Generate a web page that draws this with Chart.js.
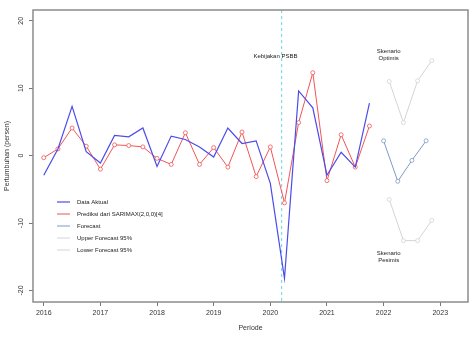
<!DOCTYPE html>
<html>
<head>
<meta charset="utf-8">
<script src="https://cdn.jsdelivr.net/npm/chart.js@4/dist/chart.umd.min.js"></script>
<style>
html,body{margin:0;padding:0;background:#fff;}
canvas{display:block;}
</style>
</head>
<body>
<canvas id="c" width="474" height="340"></canvas>
<script>
// ---- data ----
const quarters = [2016, 2016.25, 2016.5, 2016.75, 2017, 2017.25, 2017.5, 2017.75,
                  2018, 2018.25, 2018.5, 2018.75, 2019, 2019.25, 2019.5, 2019.75,
                  2020, 2020.25, 2020.5, 2020.75, 2021, 2021.25, 2021.5, 2021.75];
const actual    = [-2.9, 1.0, 7.3, 0.6, -1.1, 3.0, 2.8, 4.1,
                   -1.6, 2.9, 2.4, 1.3, -0.2, 4.1, 1.8, 2.2,
                   -4.1, -18.2, 9.6, 7.1, -2.9, 0.5, -1.7, 7.8];
const predicted = [-0.3, 1.0, 4.1, 1.4, -2.0, 1.6, 1.5, 1.3,
                   -0.4, -1.3, 3.4, -1.3, 1.2, -1.7, 3.5, -3.1,
                   1.3, -7.0, 4.9, 12.3, -3.7, 3.1, -1.7, 4.4];
const forecastQuarters = [2022, 2022.25, 2022.5, 2022.75];
const forecast  = [2.2, -3.8, -0.7, 2.2];
const boundQuarters = [2022.1, 2022.35, 2022.6, 2022.85];
const upper95   = [11.0, 4.9, 11.1, 14.1];
const lower95   = [-6.5, -12.6, -12.6, -9.6];
const xTickYears = [2016, 2017, 2018, 2019, 2020, 2021, 2022, 2023];
const yTickValues = [-20, -10, 0, 10, 20];
const psbbDate = 2020.2;
const seriesLabels = ['Data Aktual', 'Prediksi dari SARIMAX(2,0,0)[4]', 'Forecast',
                      'Upper Forecast 95%', 'Lower Forecast 95%'];
const notes = [
  {text: ['Kebijakan PSBB'], x: 2020.09, y: 14.8},
  {text: ['Skenario', 'Optimis'], x: 2022.09, y: 15.4},
  {text: ['Skenario', 'Pesimis'], x: 2022.09, y: -14.5}
];

const pts = (xs, ys) => xs.map((x, i) => ({x: x, y: ys[i]}));
const FONT = '"Liberation Sans", Arial, sans-serif';
const C_BLUE = 'rgb(75,75,235)', C_RED = 'rgb(240,85,85)', C_FC = 'rgb(125,155,195)', C_BOUND = 'rgb(212,212,212)';

const decor = {
  id: 'decor',
  beforeDatasetsDraw(chart) {
    const {ctx, chartArea: a, scales: {x}} = chart;
    const px = x.getPixelForValue(psbbDate);
    ctx.save();
    ctx.strokeStyle = 'rgb(95,215,235)';
    ctx.lineWidth = 1;
    ctx.setLineDash([3, 3]);
    ctx.beginPath(); ctx.moveTo(px, a.top); ctx.lineTo(px, a.bottom); ctx.stroke();
    ctx.restore();
  },
  afterDraw(chart) {
    const {ctx, chartArea: a, scales: {x, y}} = chart;
    ctx.save();
    // frame
    ctx.strokeStyle = 'rgb(140,140,140)';
    ctx.lineWidth = 1.5;
    ctx.strokeRect(a.left, a.top, a.right - a.left, a.bottom - a.top);
    // rotated y tick labels
    ctx.fillStyle = '#333';
    ctx.font = '7px ' + FONT;
    ctx.textAlign = 'center';
    ctx.textBaseline = 'middle';
    yTickValues.forEach(v => {
      const py = y.getPixelForValue(v);
      ctx.save();
      ctx.translate(a.left - 11.5, py);
      ctx.rotate(-Math.PI / 2);
      ctx.fillText(String(v), 0, 0);
      ctx.restore();
    });
    // annotations
    ctx.fillStyle = '#222';
    ctx.font = '6px ' + FONT;
    notes.forEach(n => {
      const px = x.getPixelForValue(n.x), py = y.getPixelForValue(n.y);
      n.text.forEach((t, i) => ctx.fillText(t, px, py + i * 7));
    });
    // legend
    ctx.textAlign = 'left';
    chart.data.datasets.forEach((ds, i) => {
      const ly = a.top + 192 + i * 12;
      const lx = a.left + 24;
      ctx.strokeStyle = ds.borderColor;
      ctx.lineWidth = ds.borderWidth;
      ctx.beginPath(); ctx.moveTo(lx, ly); ctx.lineTo(lx + 13, ly); ctx.stroke();
      ctx.fillStyle = '#222';
      ctx.fillText(ds.label, lx + 20, ly);
    });
    ctx.restore();
  }
};

new Chart(document.getElementById('c'), {
  type: 'line',
  data: {
    datasets: [
      {label: seriesLabels[0], data: pts(quarters, actual), borderColor: C_BLUE, borderWidth: 1.2,
       pointRadius: 0, tension: 0},
      {label: seriesLabels[1], data: pts(quarters, predicted), borderColor: C_RED, borderWidth: 1,
       pointRadius: 2, pointBorderWidth: 0.8, pointBorderColor: C_RED, pointBackgroundColor: '#fff', tension: 0},
      {label: seriesLabels[2], data: pts(forecastQuarters, forecast), borderColor: C_FC, borderWidth: 1,
       pointRadius: 2, pointBorderWidth: 0.8, pointBorderColor: C_FC, pointBackgroundColor: '#fff', tension: 0},
      {label: seriesLabels[3], data: pts(boundQuarters, upper95), borderColor: C_BOUND, borderWidth: 1,
       pointRadius: 2, pointBorderWidth: 0.8, pointBorderColor: C_BOUND, pointBackgroundColor: '#fff', tension: 0},
      {label: seriesLabels[4], data: pts(boundQuarters, lower95), borderColor: C_BOUND, borderWidth: 1,
       pointRadius: 2, pointBorderWidth: 0.8, pointBorderColor: C_BOUND, pointBackgroundColor: '#fff', tension: 0}
    ]
  },
  options: {
    responsive: false,
    animation: false,
    events: [],
    layout: {padding: {top: 10, right: 6, left: 0, bottom: 0}},
    plugins: {legend: {display: false}, tooltip: {enabled: false}},
    scales: {
      x: {
        type: 'linear', min: 2015.81, max: 2023.49,
        afterBuildTicks: s => { s.ticks = xTickYears.map(v => ({value: v})); },
        afterFit: s => { s.height = 38; },
        grid: {drawOnChartArea: false, drawTicks: true, tickLength: 4, color: 'rgb(120,120,120)'},
        border: {display: false},
        ticks: {color: '#333', font: {family: FONT, size: 7}, padding: 3, maxRotation: 0,
                callback: v => String(v)},
        title: {display: true, text: 'Periode', color: '#333', font: {family: FONT, size: 7},
                padding: {top: 0, bottom: 8}}
      },
      y: {
        type: 'linear', min: -21.7, max: 21.6,
        afterBuildTicks: s => { s.ticks = yTickValues.map(v => ({value: v})); },
        afterFit: s => { s.width = 33; },
        grid: {drawOnChartArea: false, drawTicks: true, tickLength: 4, color: 'rgb(120,120,120)'},
        border: {display: false},
        ticks: {display: false},
        title: {display: true, text: 'Pertumbuhan (persen)', color: '#333', font: {family: FONT, size: 7},
                padding: {top: 3, bottom: 0}}
      }
    }
  },
  plugins: [decor]
});
</script>
</body>
</html>
